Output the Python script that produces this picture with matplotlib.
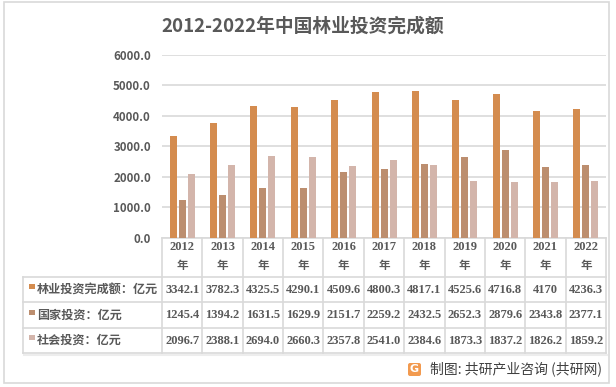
import matplotlib
matplotlib.use("Agg")
import matplotlib.pyplot as plt
from matplotlib.patches import Rectangle, FancyBboxPatch
from matplotlib.transforms import blended_transform_factory
import numpy as np

plt.rcParams['font.family'] = ['Noto Sans CJK SC', 'DejaVu Sans']

years = ['2012', '2013', '2014', '2015', '2016', '2017', '2018', '2019', '2020', '2021', '2022']
total = [3342.1, 3782.3, 4325.5, 4290.1, 4509.6, 4800.3, 4817.1, 4525.6, 4716.8, 4170, 4236.3]
state = [1245.4, 1394.2, 1631.5, 1629.9, 2151.7, 2259.2, 2432.5, 2652.3, 2879.6, 2343.8, 2377.1]
social = [2096.7, 2388.1, 2694.0, 2660.3, 2357.8, 2541.0, 2384.6, 1873.3, 1837.2, 1826.2, 1859.2]
total_labels = ['3342.1', '3782.3', '4325.5', '4290.1', '4509.6', '4800.3', '4817.1', '4525.6', '4716.8', '4170', '4236.3']
series_names = ['林业投资完成额：亿元', '国家投资：亿元', '社会投资：亿元']
yticks = [0, 1000, 2000, 3000, 4000, 5000, 6000]
title = '2012-2022年中国林业投资完成额'
footer = '制图: 共研产业咨询 (共研网)'

colors = ['#D48C4F', '#BC8E6F', '#D3B5AB']
grid_c = '#D9D9D9'
txt_c = '#595959'
num_font = ['Liberation Serif', 'Noto Sans CJK SC']

W, H = 616, 387
fig = plt.figure(figsize=(W / 100, H / 100), dpi=100)

# overlay axes in pixel coordinates
ov = fig.add_axes([0, 0, 1, 1])
ov.set_xlim(0, W)
ov.set_ylim(H, 0)
ov.axis('off')

# plot axes
x0, x1, ytop, ybot = 162, 606, 55, 238
ax = fig.add_axes([x0 / W, 1 - ybot / H, (x1 - x0) / W, (ybot - ytop) / H])
n = len(years)
ax.set_xlim(-0.5, n - 0.5)
ax.set_ylim(0, 6000)
x = np.arange(n)
colw = (x1 - x0) / n
bw = 7 / colw
step = 9 / colw
for k, vals in enumerate([total, state, social]):
    ax.bar(x + (k - 1) * step, vals, width=bw, color=colors[k], zorder=3)
ax.set_yticks(yticks)
ax.set_yticklabels([f'{v:.1f}' for v in yticks], fontsize=8.3, color=txt_c, fontweight='bold')
ax.tick_params(axis='y', length=0, pad=8)
ax.set_xticks([])
ax.grid(axis='y', color=grid_c, lw=1.2, zorder=0)
for s in ['top', 'right', 'left', 'bottom']:
    ax.spines[s].set_visible(False)
ax.set_facecolor('none')

# outer border
ov.add_patch(Rectangle((4, 2), 605, 381, fill=False, ec='#D9D9D9', lw=1.2))

# title
ov.text(303, 26, title, ha='center', va='center', fontsize=13.5, fontweight='bold', color=txt_c)

# table
bt = blended_transform_factory(ax.transData, ov.transData)
row_y = [238, 277, 302, 328, 353]
tl = 23
lc = '#D9D9D9'
ov.plot([x0, x1], [row_y[0], row_y[0]], color=lc, lw=1.2)
for yy in row_y[1:]:
    ov.plot([tl, x1], [yy, yy], color=lc, lw=1.2)
ov.plot([tl, tl], [row_y[1], row_y[-1]], color=lc, lw=1.2)
for i in range(n + 1):
    ov.plot([i - 0.5, i - 0.5], [row_y[0], row_y[-1]], color=lc, lw=1.2, transform=bt)
ov.plot([tl + 1, x1 + 1], [row_y[-1] + 1.5, row_y[-1] + 1.5], color='#EDEDED', lw=1.5)

# header
for i, yr in enumerate(years):
    ov.text(i, 247, yr, transform=bt, ha='center', va='center', fontsize=9, fontweight='bold',
            color=txt_c, family=num_font)
    ov.text(i, 265, '年', transform=bt, ha='center', va='center', fontsize=8.3, fontweight='bold', color=txt_c)

rows = [total_labels, [f'{v:.1f}' for v in state], [f'{v:.1f}' for v in social]]
for r in range(3):
    yc = (row_y[r + 1] + row_y[r + 2]) / 2
    ov.add_patch(Rectangle((29, yc - 5.5), 6, 5, color=colors[r], lw=0))
    ov.text(37, yc, series_names[r], ha='left', va='center', fontsize=8.7, fontweight='bold', color=txt_c)
    for i in range(n):
        ov.text(i, yc + 0.5, rows[r][i], transform=bt, ha='center', va='center', fontsize=9,
                fontweight='bold', color=txt_c, family=num_font)

# footer logo + text
ov.add_patch(FancyBboxPatch((408, 363), 13, 13, boxstyle='round,pad=0,rounding_size=2', fc='#F29A4F', ec='none'))
ov.text(414.5, 369.5, 'G', ha='center', va='center', fontsize=8, fontweight='bold', color='white', family='DejaVu Sans')
ov.text(430, 369, footer, ha='left', va='center', fontsize=10, color='#404040')

fig.savefig('out.png', dpi=100)
